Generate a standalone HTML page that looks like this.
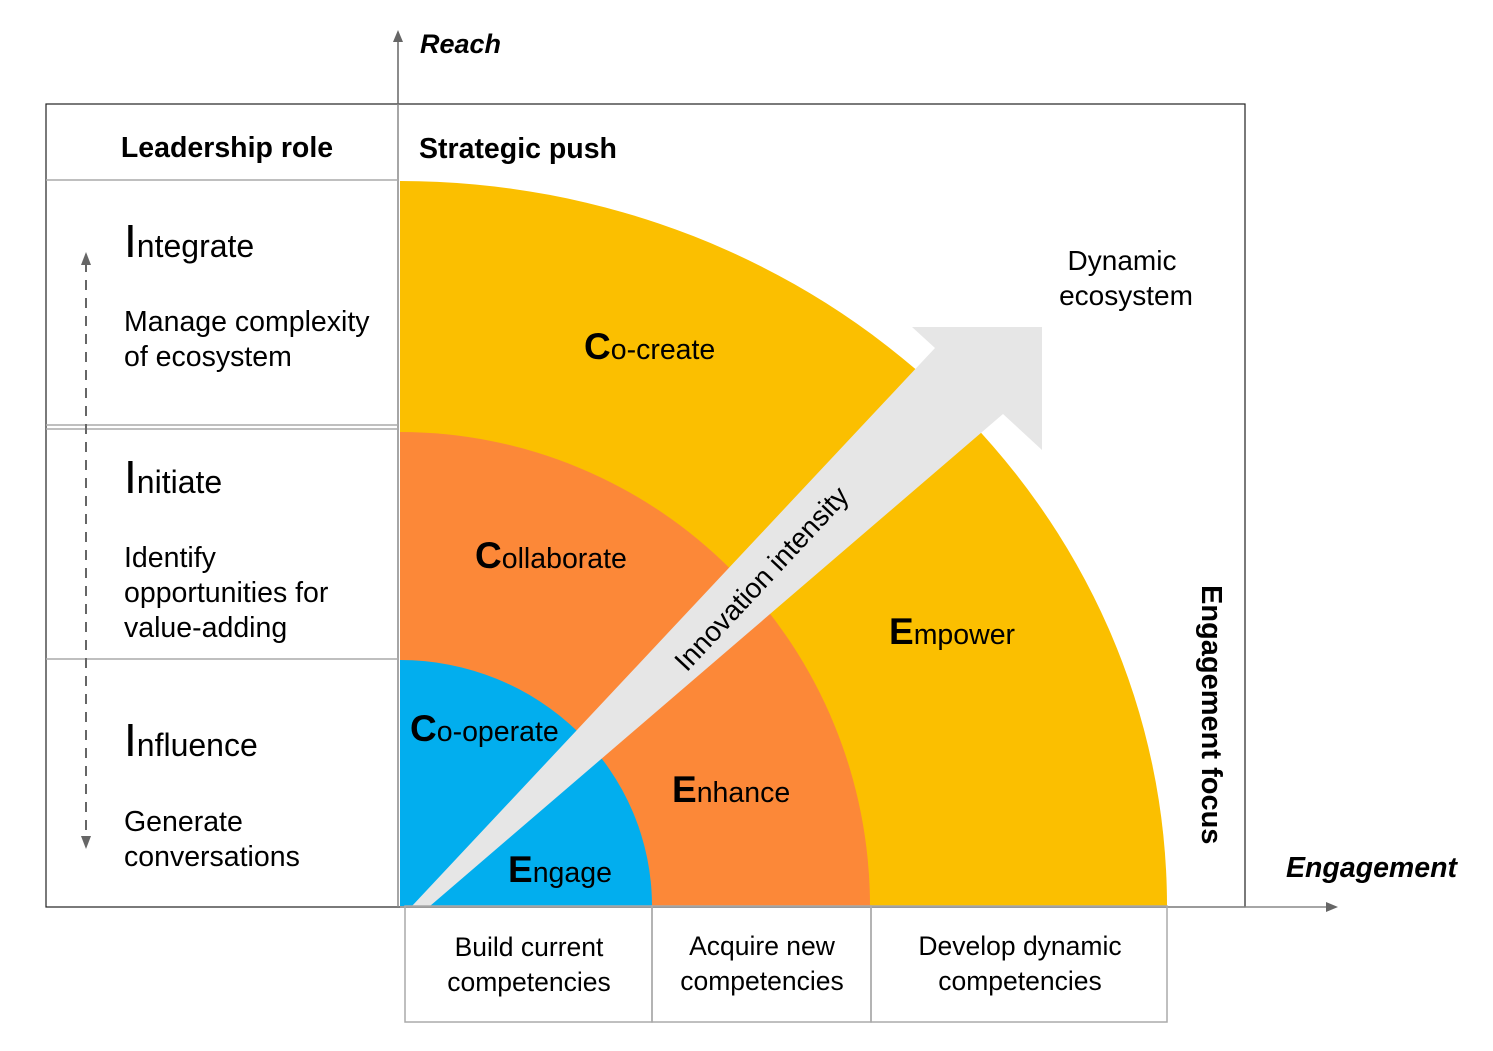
<!DOCTYPE html>
<html><head><style>
body{margin:0;background:#fff;}
svg text{font-family:"Liberation Sans",Arial,sans-serif;fill:#000;}
</style></head><body>
<svg width="1493" height="1046" viewBox="0 0 1493 1046" xmlns="http://www.w3.org/2000/svg">
<rect x="46" y="104" width="1199" height="803" fill="none" stroke="#222" stroke-width="1.2"/>
<path d="M400 906 L400 181 A767 725 0 0 1 1167 906 Z" fill="#FBBF00"/>
<path d="M400 906 L400 432 A470 474 0 0 1 870 906 Z" fill="#FC8838"/>
<path d="M400 906 L400 660 A252 246 0 0 1 652 906 Z" fill="#02AEEE"/>
<polygon points="412,906 935,348 912,327 1042,327 1042,450 1003,414 430,906" fill="#E6E6E6"/>
<text x="0" y="0" font-size="28" transform="translate(763,580) rotate(-47)" text-anchor="middle" dominant-baseline="middle">Innovation intensity</text>
<line x1="398" y1="104" x2="398" y2="907" stroke="#888" stroke-width="1.5"/>
<line x1="46" y1="180" x2="398" y2="180" stroke="#aaa" stroke-width="1.5"/>
<line x1="46" y1="425" x2="398" y2="425" stroke="#aaa" stroke-width="1.5"/>
<line x1="46" y1="429" x2="398" y2="429" stroke="#aaa" stroke-width="1.5"/>
<line x1="46" y1="659" x2="398" y2="659" stroke="#aaa" stroke-width="1.5"/>
<line x1="398" y1="38" x2="398" y2="104" stroke="#666" stroke-width="1.5"/>
<polygon points="393,42 398,30 403,42" fill="#666"/>
<line x1="400" y1="907" x2="1328" y2="907" stroke="#888" stroke-width="1.5"/>
<polygon points="1326,902 1338,907 1326,912" fill="#666"/>
<line x1="86" y1="262" x2="86" y2="840" stroke="#666" stroke-width="2" stroke-dasharray="10,8"/>
<polygon points="81,265 86,252 91,265" fill="#666"/>
<polygon points="81,836 86,849 91,836" fill="#666"/>
<rect x="405" y="906" width="247" height="116" fill="none" stroke="#aaa" stroke-width="1.5"/>
<rect x="652" y="906" width="219" height="116" fill="none" stroke="#aaa" stroke-width="1.5"/>
<rect x="871" y="906" width="296" height="116" fill="none" stroke="#aaa" stroke-width="1.5"/>
<g font-size="26.5" text-anchor="middle">
<text x="529" y="956">Build current</text><text x="529" y="991">competencies</text>
<text x="762" y="955">Acquire new</text><text x="762" y="990">competencies</text>
<text x="1020" y="955">Develop dynamic</text><text x="1020" y="990">competencies</text>
</g>
<text x="420" y="53" font-size="27" font-weight="bold" font-style="italic">Reach</text>
<text x="1286" y="877" font-size="28.5" font-weight="bold" font-style="italic">Engagement</text>
<text x="227" y="157" font-size="28.5" font-weight="bold" text-anchor="middle">Leadership role</text>
<text x="419" y="158" font-size="28.5" font-weight="bold">Strategic push</text>
<text x="0" y="0" font-size="29" font-weight="bold" transform="translate(1202,585) rotate(90)">Engagement focus</text>
<text x="1122" y="270" font-size="28" text-anchor="middle">Dynamic</text>
<text x="1126" y="305" font-size="28" text-anchor="middle">ecosystem</text>
<g font-size="28.5">
<text x="124" y="257" font-size="32"><tspan font-size="46">I</tspan>ntegrate</text>
<text x="124" y="331">Manage complexity</text>
<text x="124" y="366">of ecosystem</text>
<text x="124" y="493" font-size="32"><tspan font-size="46">I</tspan>nitiate</text>
<text x="124" y="567">Identify</text>
<text x="124" y="602">opportunities for</text>
<text x="124" y="637">value-adding</text>
<text x="124" y="756" font-size="32"><tspan font-size="46">I</tspan>nfluence</text>
<text x="124" y="831">Generate</text>
<text x="124" y="866">conversations</text>
</g>
<g font-size="28.5">
<text x="584" y="359"><tspan font-size="37" font-weight="bold">C</tspan>o-create</text>
<text x="475" y="568"><tspan font-size="37" font-weight="bold">C</tspan>ollaborate</text>
<text x="410" y="741"><tspan font-size="37" font-weight="bold">C</tspan>o-operate</text>
<text x="508" y="882"><tspan font-size="37" font-weight="bold">E</tspan>ngage</text>
<text x="672" y="802"><tspan font-size="37" font-weight="bold">E</tspan>nhance</text>
<text x="889" y="644"><tspan font-size="37" font-weight="bold">E</tspan>mpower</text>
</g>
</svg>
</body></html>
